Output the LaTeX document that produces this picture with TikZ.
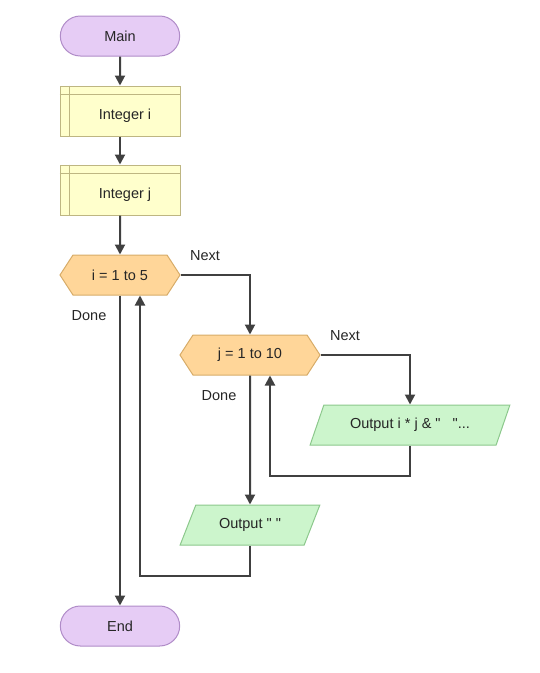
\documentclass[tikz,border=0pt]{standalone}
\usepackage{fontspec}
\setmainfont{Liberation Sans}
\usetikzlibrary{shapes.geometric,shapes.misc,shapes.symbols,arrows.meta}

\definecolor{termfill}{RGB}{230,204,245}
\definecolor{termline}{RGB}{176,140,200}
\definecolor{declfill}{RGB}{255,255,204}
\definecolor{declline}{RGB}{190,182,130}
\definecolor{loopfill}{RGB}{255,214,153}
\definecolor{loopline}{RGB}{215,172,105}
\definecolor{outfill}{RGB}{204,245,204}
\definecolor{outline}{RGB}{140,200,140}
\definecolor{flow}{RGB}{64,64,64}
\newcommand{\qq}{\textquotedbl}

\begin{document}
\begin{tikzpicture}[x=1pt,y=-1pt,
    font=\fontsize{14.5}{16}\selectfont, text=black!85,
    term/.style={rounded rectangle,draw=termline,fill=termfill,line width=1pt,minimum width=126pt,minimum height=40pt},
    decl/.style={rectangle,draw=declline,fill=declfill,line width=1pt,minimum width=120pt,minimum height=50pt},
    loop/.style={signal,signal to=west and east,signal pointer angle=114,draw=loopline,fill=loopfill,line width=1pt,minimum height=40pt,inner xsep=0pt},
    output/.style={trapezium,trapezium left angle=63.4,trapezium right angle=116.6,trapezium stretches=true,draw=outline,fill=outfill,line width=1pt,minimum height=40pt},
    arr/.style={draw=flow,line width=2pt,-{Triangle[width=10pt,length=10pt]}},
    lbl/.style={text=black!85}]
    \useasboundingbox (0,0) rectangle (540,673);
    \node[term] (main) at (120,36) {Main};
    \node[decl] (inti) at (120,111) {};
    \node[decl] (intj) at (120,190) {};
    \node (inti text) at (125,116) {Integer i};
    \node (intj text) at (125,195) {Integer j};
    \foreach \b in {inti,intj} {
        \draw[declline,line width=1pt] ([yshift=-9pt]\b.north west) -- ([yshift=-9pt]\b.north east);
        \draw[declline,line width=1pt] ([xshift=10pt]\b.north west) -- ([xshift=10pt]\b.south west);
    }
    \node[loop,minimum width=120pt] (fori) at (120,275) {i = 1 to 5};
    \node[loop,minimum width=140pt] (forj) at (250,355) {j = 1 to 10};
    \node[output,minimum width=200pt] (outij) at (410,425) {Output i * j \& \qq\ \ \ \qq...};
    \node[output,minimum width=140pt] (outsp) at (250,525) {Output \qq\ \qq};
    \node[term] (end) at (120,626) {End};

    \draw[arr] (main) -- (inti);
    \draw[arr] (inti) -- (intj);
    \draw[arr] (intj) -- (fori);
    \draw[arr] (fori.east) -| (forj.north);
    \draw[arr] (forj.east) -| (outij.north);
    \draw[arr] (outij.south) -- ++(0,30) -| ([xshift=20pt]forj.south);
    \draw[arr] (forj.south) -- (outsp.north);
    \draw[arr] (outsp.south) -- ++(0,30) -| ([xshift=20pt]fori.south);
    \draw[arr] (fori.south) -- (end.north);

    \node[lbl] (next i) at (205,256) {Next};
    \node[lbl] (done i) at (89,316) {Done};
    \node[lbl] (next j) at (345,336) {Next};
    \node[lbl] (done j) at (219,396) {Done};
\end{tikzpicture}
\end{document}
